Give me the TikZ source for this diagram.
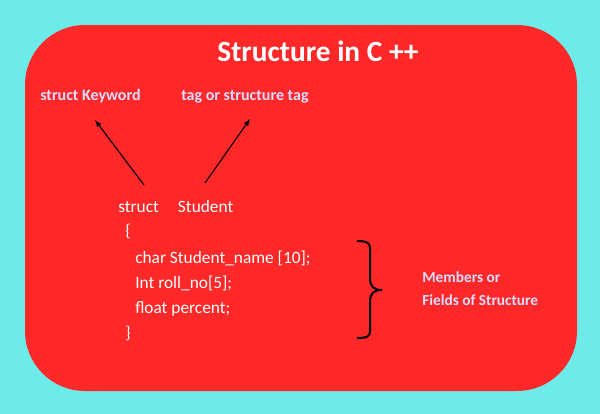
\documentclass[tikz,border=0pt]{standalone}
\usepackage{fontspec}
\setmainfont{Carlito}
\definecolor{bgc}{HTML}{6EEBE8}
\definecolor{redc}{HTML}{FF2828}
\definecolor{lav}{HTML}{D8DCFF}
\tikzset{lbl/.style={text=lav,font=\bfseries\fontsize{12}{14}\selectfont,anchor=west,inner sep=0},
code/.style={text=white,font=\fontsize{13}{15}\selectfont,anchor=west,inner sep=0},
arr/.style={-latex,thick,black}}
\begin{document}
\begin{tikzpicture}[x=0.75pt,y=-0.75pt]
\fill[bgc] (0,0) rectangle (600,414);
\useasboundingbox (0,0) rectangle (600,414);
\fill[redc,rounded corners=45] (25,25) rectangle (577,391);
\node[text=white,font=\bfseries\fontsize{22}{26}\selectfont] (title) at (318,51) {Structure in C ++};
\node[lbl] (kw) at (40,96) {struct Keyword};
\node[lbl] (tag) at (181,97) {tag or structure tag};
\node[code] (s1) at (118,207) {struct\hspace{1.1em}Student};
\node[code] (s2) at (125,231) {\{};
\node[code] (s3) at (135,258) {char Student\_name [10];};
\node[code] (s4) at (135,283) {Int roll\_no[5];};
\node[code] (s5) at (135,309) {float percent;};
\node[code] (s6) at (125,333) {\}};
\coordinate (a1) at (144,185); \coordinate (a1e) at (95,120);
\coordinate (a2) at (205,183); \coordinate (a2e) at (250,119);
\draw[arr] (a1) -- (a1e);
\draw[arr] (a2) -- (a2e);
\coordinate (b1) at (357,241); \coordinate (bm) at (382,290); \coordinate (b2) at (357,338);
\draw[line width=1.5pt] (b1) .. controls (372,241) and (370,245) .. (370,258) -- (370,278) .. controls (370,287) and (374,290) .. (bm) .. controls (374,290) and (370,293) .. (370,302) -- (370,322) .. controls (370,335) and (372,338) .. (b2);
\node[lbl,align=left,font=\bfseries\fontsize{11.5}{17}\selectfont] (mem) at (422,289) {Members or\\Fields of Structure};
\end{tikzpicture}
\end{document}
